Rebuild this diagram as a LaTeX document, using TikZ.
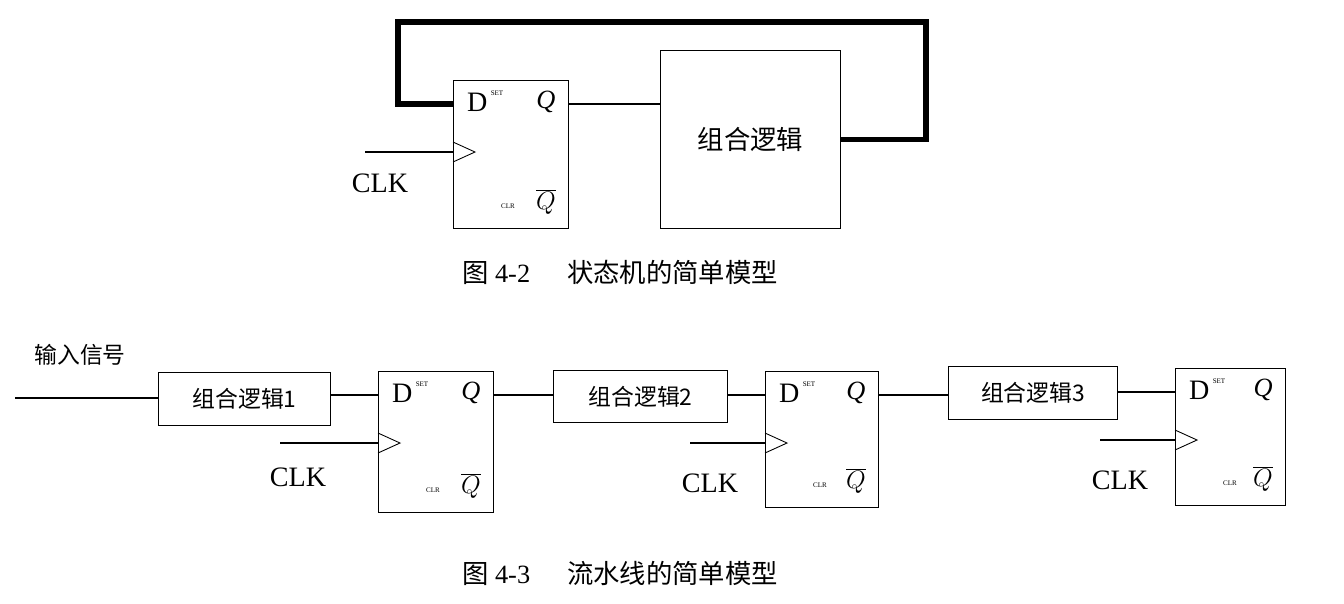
\documentclass[tikz,border=0pt]{standalone}
\usepackage{fontspec}
\setmainfont{Liberation Serif}
\newfontfamily\cjk{Noto Sans CJK SC}
\begin{document}
\begin{tikzpicture}[x=0.02cm,y=-0.02cm,
  box/.style={draw,line width=0.6pt,inner sep=0},
  wire/.style={line width=1.2pt},
  lab/.style={font=\fontsize{16}{16}\selectfont},
  sm/.style={font=\fontsize{4}{4}\selectfont},
  qq/.style={font=\fontsize{15}{15}\selectfont\itshape}]
\useasboundingbox (0,0) rectangle (1344,603);
% flip-flop macro
\newcommand\myff[5]{% name, x1,y1,x2,y2
  \node[box,minimum width={(#4-#2)*0.02cm},minimum height={(#5-#3)*0.02cm},anchor=north west] (#1) at (#2,#3) {};
  \coordinate (#1d) at (#2,#3+24);
  \coordinate (#1q) at (#4,#3+24);
  \coordinate (#1c) at (#2,#3+72);
  \draw[line width=0.5pt] (#2,#3+62) -- (#2+22,#3+72) -- (#2,#3+82);
  \node[lab,anchor=west] at (#2+8,#3+22) {D};
  \node[sm] at (#2+44,#3+13) {SET};
  \node[qq] at (#4-22,#3+22) {Q};
  \node[sm] at (#2+55,#5-22) {CLR};
  \node[qq] at (#4-22,#5-26) {$\overline{Q}$};
}
% top
\myff{f0}{453}{80}{568}{228}
\node[box,minimum width=3.6cm,minimum height=3.56cm,anchor=north west,font=\cjk\fontsize{15}{15}\selectfont] (c0) at (660,50) {组合逻辑};
\draw[wire] (f0q) -- (f0q -| c0.west);
\coordinate (k0) at (365,152);
\draw[wire] (k0) -- (f0c);
\node[lab] at (380,183) {CLK};
\draw[line width=3pt] (c0.east) -- ++(85,0) |- (398,22) |- (f0d);
\node[font=\fontsize{15}{15}\selectfont] (cap1) at (620,272) {{\cjk 图} 4-2\hspace{1.4em}{\cjk 状态机的简单模型}};
% bottom
\node[font=\cjk\fontsize{13}{13}\selectfont] (in) at (80,355) {输入信号};
\coordinate (i0) at (15,398);
\node[box,minimum width=3.44cm,minimum height=1.06cm,anchor=north west,font=\cjk\fontsize{13}{13}\selectfont] (b1) at (158,372) {组合逻辑1};
\draw[wire] (i0) -- (b1.west |- i0);
\myff{f1}{378}{371}{493}{512}
\draw[wire] (b1.east |- f1d) -- (f1d);
\coordinate (k1) at (280,443);\draw[wire] (k1) -- (f1c);
\node[lab] at (298,477) {CLK};
\node[box,minimum width=3.48cm,minimum height=1.04cm,anchor=north west,font=\cjk\fontsize{13}{13}\selectfont] (b2) at (553,370) {组合逻辑2};
\draw[wire] (f1q) -- (b2.west |- f1q);
\myff{f2}{765}{371}{878}{507}
\draw[wire] (b2.east |- f2d) -- (f2d);
\coordinate (k2) at (690,443);\draw[wire] (k2) -- (f2c);
\node[lab] at (710,483) {CLK};
\node[box,minimum width=3.38cm,minimum height=1.06cm,anchor=north west,font=\cjk\fontsize{13}{13}\selectfont] (b3) at (948,366) {组合逻辑3};
\draw[wire] (f2q) -- (b3.west |- f2q);
\myff{f3}{1175}{368}{1285}{505}
\draw[wire] (b3.east |- f3d) -- (f3d);
\coordinate (k3) at (1100,440);\draw[wire] (k3) -- (f3c);
\node[lab] at (1120,480) {CLK};
\node[font=\fontsize{15}{15}\selectfont] (cap2) at (620,573) {{\cjk 图} 4-3\hspace{1.4em}{\cjk 流水线的简单模型}};
\end{tikzpicture}
\end{document}
